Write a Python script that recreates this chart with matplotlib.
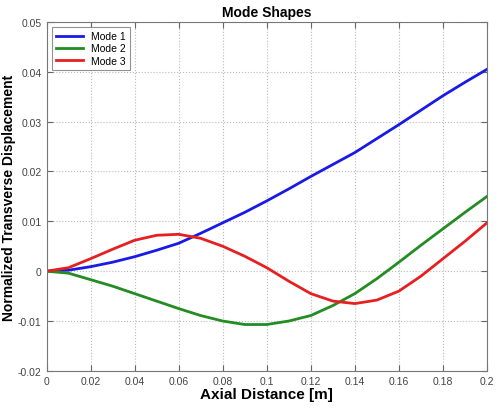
import numpy as np
import matplotlib.pyplot as plt

plt.rcParams['font.family'] = ['Liberation Sans', 'DejaVu Sans']

# axial positions [m]
x = [0.0, 0.01, 0.02, 0.03, 0.04, 0.05, 0.06, 0.07, 0.08, 0.09, 0.10,
     0.11, 0.12, 0.13, 0.14, 0.15, 0.16, 0.17, 0.18, 0.19, 0.20]

mode1 = [0, 0.0002, 0.0009, 0.0018, 0.0029, 0.0042, 0.0056, 0.0076, 0.0097, 0.0118, 0.0141,
         0.0165, 0.0190, 0.0214, 0.0238, 0.0266, 0.0294, 0.0323, 0.0352, 0.0379, 0.0405]
mode2 = [0, -0.0004, -0.0017, -0.0030, -0.0045, -0.0060, -0.0075, -0.0089, -0.0100, -0.0107, -0.0107,
         -0.0100, -0.0089, -0.0069, -0.0045, -0.0015, 0.0018, 0.0052, 0.0085, 0.0118, 0.0150]
mode3 = [0, 0.0007, 0.0025, 0.0044, 0.0062, 0.0072, 0.0074, 0.0066, 0.0050, 0.0030, 0.0007,
         -0.0020, -0.0045, -0.0060, -0.0065, -0.0058, -0.0040, -0.0010, 0.0025, 0.0060, 0.0097]

xticks = [0, 0.02, 0.04, 0.06, 0.08, 0.1, 0.12, 0.14, 0.16, 0.18, 0.2]
xlabels = ['0', '0.02', '0.04', '0.06', '0.08', '0.1', '0.12', '0.14', '0.16', '0.18', '0.2']
yticks = [-0.02, -0.01, 0, 0.01, 0.02, 0.03, 0.04, 0.05]
ylabels = ['-0.02', '-0.01', '0', '0.01', '0.02', '0.03', '0.04', '0.05']

fig = plt.figure(figsize=(5, 4.1), dpi=100)
ax = fig.add_axes([0.093, 0.093, 0.881, 0.851])

ax.plot(x, mode1, color='#1a1ae6', lw=2, label='Mode 1')
ax.plot(x, mode2, color='#238c23', lw=2, label='Mode 2')
ax.plot(x, mode3, color='#e62020', lw=2, label='Mode 3')

ax.set_xlim(0, 0.2)
ax.set_ylim(-0.02, 0.05)
ax.set_xticks(xticks)
ax.set_xticklabels(xlabels)
ax.set_yticks(yticks)
ax.set_yticklabels(ylabels)
ax.tick_params(direction='in', top=True, right=True, labelsize=7.5,
               labelcolor='#444444', color='#666666', length=4)
for s in ax.spines.values():
    s.set_color('#777777')

ax.grid(True, linestyle=':', color='#bbbbbb', lw=0.8)

ax.set_title('Mode Shapes', fontsize=10, fontweight='bold', pad=4)
ax.set_xlabel('Axial Distance [m]', fontsize=11, fontweight='bold', labelpad=1)
ax.set_ylabel('Normalized Transverse Displacement', fontsize=10, fontweight='bold', labelpad=1)

leg = ax.legend(loc='upper left', fontsize=7.5, frameon=True, fancybox=False,
                handlelength=2.6, borderaxespad=0.5, labelspacing=0.2)
leg.get_frame().set_edgecolor('#777777')
leg.get_frame().set_linewidth(0.8)

fig.savefig('out.png', dpi=100)
